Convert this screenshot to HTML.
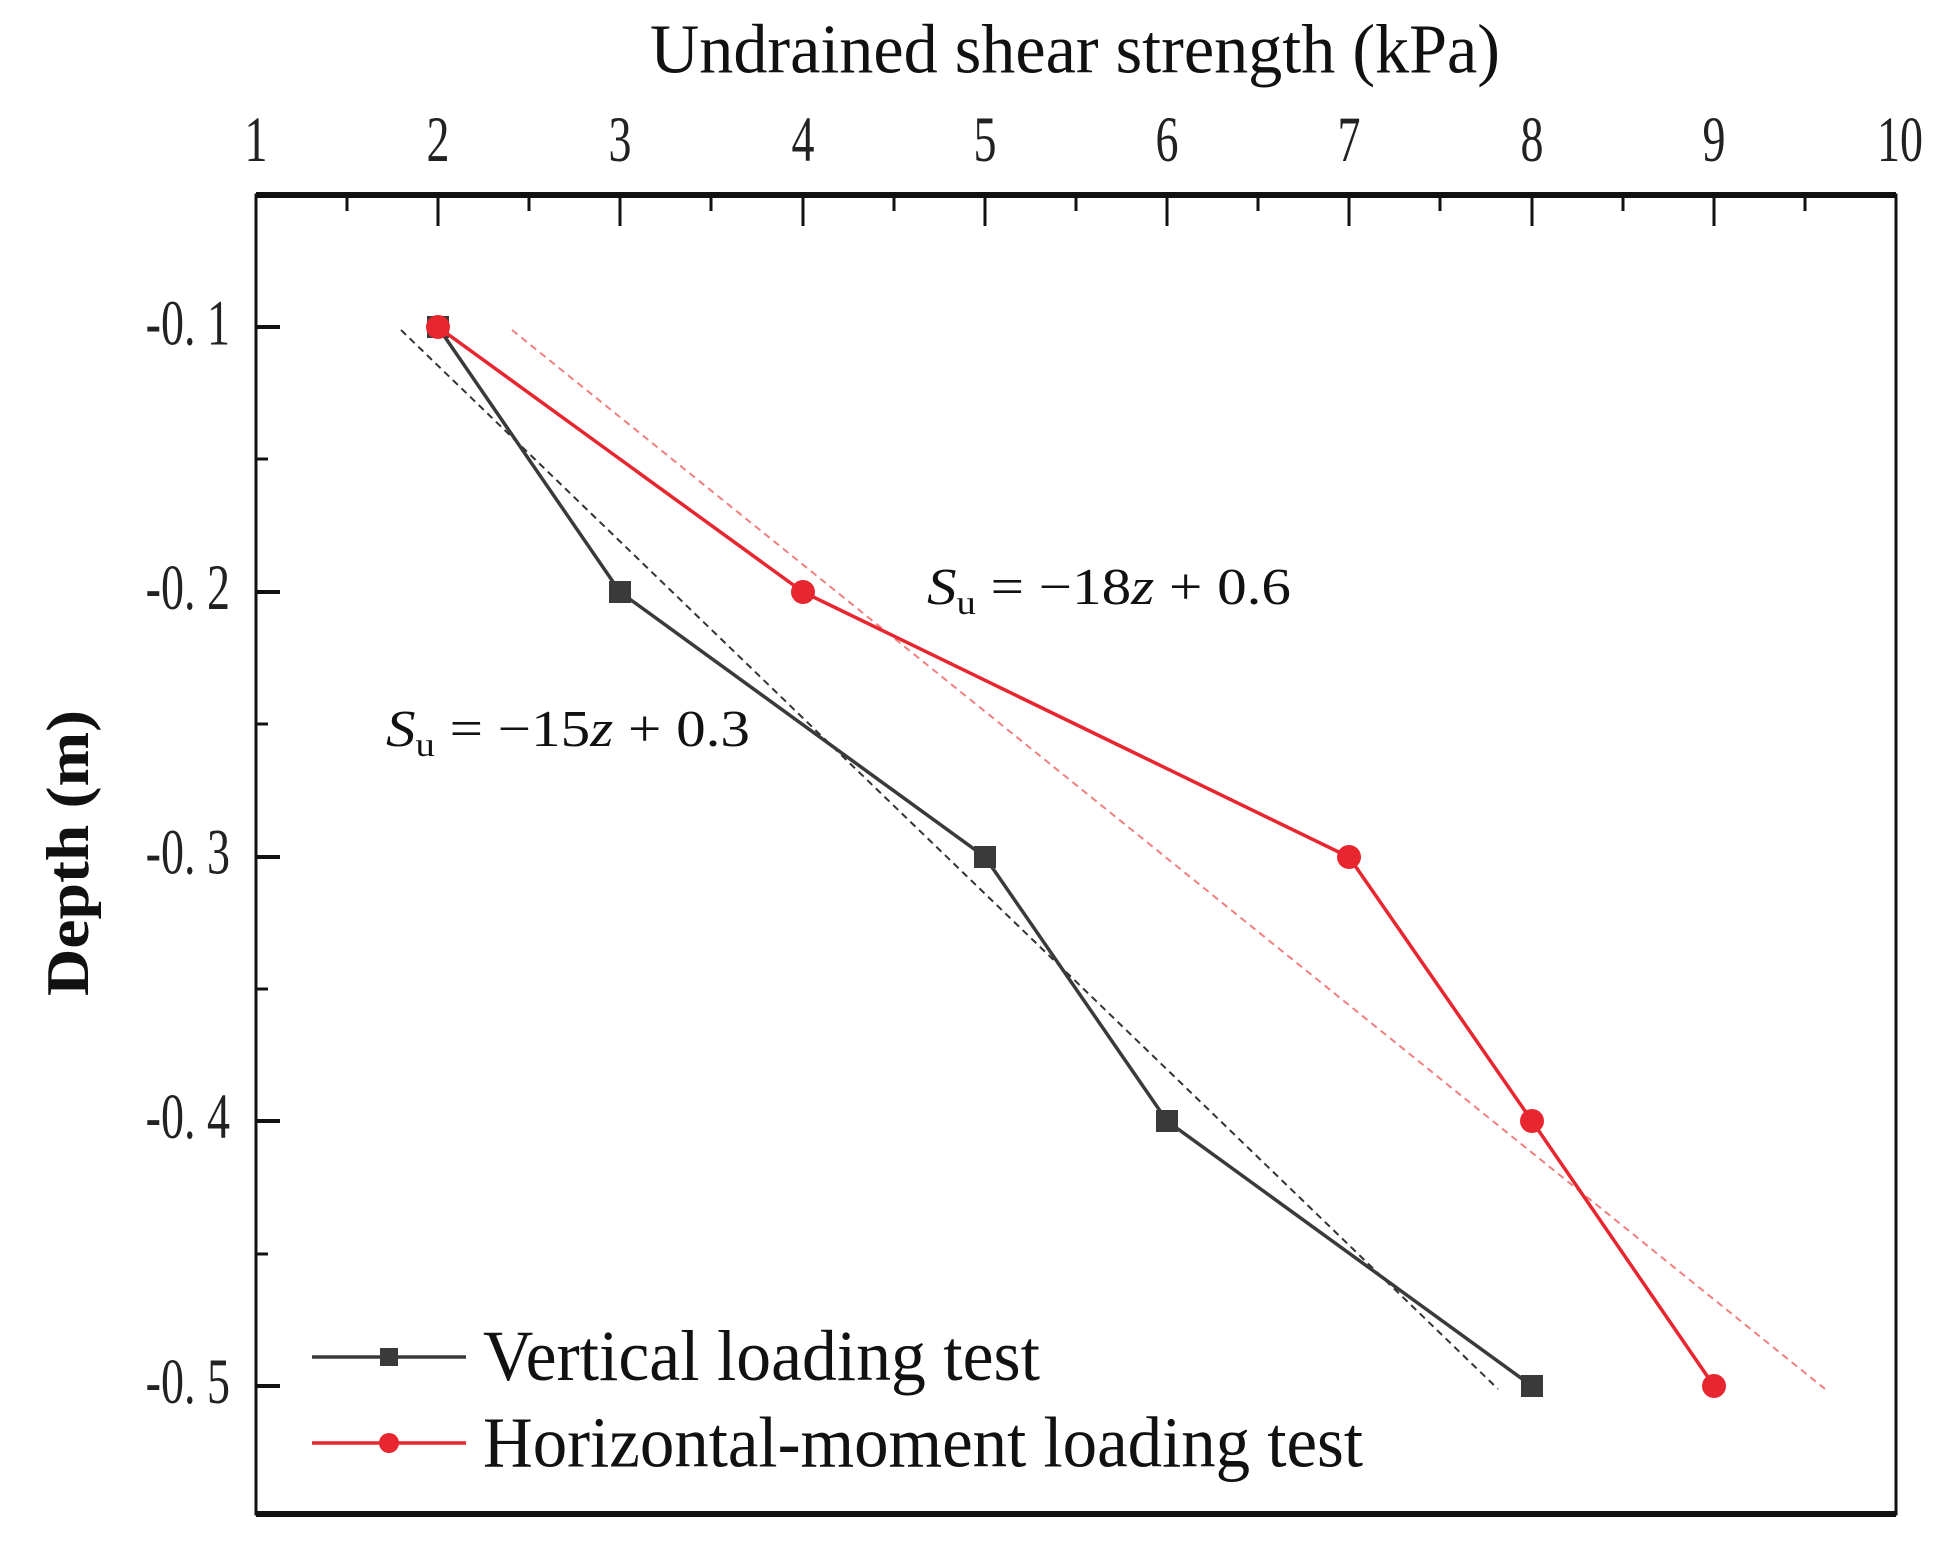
<!DOCTYPE html>
<html><head><meta charset="utf-8"><style>html,body{margin:0;padding:0;background:#fff}svg{display:block}</style></head>
<body>
<svg width="1933" height="1549" viewBox="0 0 1933 1549" xmlns="http://www.w3.org/2000/svg" font-family="'Liberation Serif', serif">
<rect width="1933" height="1549" fill="#fff"/>
<!-- title -->
<g transform="scale(1,1.25)"><text x="1075" y="58" font-size="56" text-anchor="middle" textLength="850" lengthAdjust="spacingAndGlyphs" fill="#111">Undrained shear strength (kPa)</text></g>
<!-- x tick labels -->
<g font-size="46" fill="#222" text-anchor="middle" transform="scale(1,1.4)">
<text x="256" y="115">1</text>
<text x="438" y="115">2</text>
<text x="620" y="115">3</text>
<text x="803" y="115">4</text>
<text x="985" y="115">5</text>
<text x="1167" y="115">6</text>
<text x="1349" y="115">7</text>
<text x="1532" y="115">8</text>
<text x="1714" y="115">9</text>
<text x="1900" y="115">10</text>
</g>
<!-- y tick labels -->
<g font-size="46" fill="#222" text-anchor="end" transform="scale(1,1.4)">
<text x="230" y="246">-0. 1</text>
<text x="230" y="435">-0. 2</text>
<text x="230" y="624">-0. 3</text>
<text x="230" y="813">-0. 4</text>
<text x="230" y="1002">-0. 5</text>
</g>
<text transform="translate(88,853) rotate(-90)" font-size="60" font-weight="bold" text-anchor="middle" textLength="286" lengthAdjust="spacingAndGlyphs" fill="#111">Depth (m)</text>
<!-- axes box -->
<rect x="256" y="195" width="1640" height="1319" fill="none" stroke="#111" stroke-width="3"/>
<line x1="256" y1="195" x2="1896" y2="195" stroke="#111" stroke-width="6"/>
<line x1="256" y1="1514" x2="1896" y2="1514" stroke="#111" stroke-width="6"/>
<g stroke="#111" stroke-width="3">
<line x1="438" y1="195" x2="438" y2="226"/><line x1="620" y1="195" x2="620" y2="226"/><line x1="803" y1="195" x2="803" y2="226"/><line x1="985" y1="195" x2="985" y2="226"/><line x1="1167" y1="195" x2="1167" y2="226"/><line x1="1349" y1="195" x2="1349" y2="226"/><line x1="1532" y1="195" x2="1532" y2="226"/><line x1="1714" y1="195" x2="1714" y2="226"/>
<line x1="347" y1="195" x2="347" y2="211"/><line x1="529" y1="195" x2="529" y2="211"/><line x1="711" y1="195" x2="711" y2="211"/><line x1="894" y1="195" x2="894" y2="211"/><line x1="1076" y1="195" x2="1076" y2="211"/><line x1="1258" y1="195" x2="1258" y2="211"/><line x1="1440" y1="195" x2="1440" y2="211"/><line x1="1623" y1="195" x2="1623" y2="211"/><line x1="1805" y1="195" x2="1805" y2="211"/>
<line x1="256" y1="327" x2="280" y2="327" stroke-width="4"/><line x1="256" y1="592" x2="280" y2="592" stroke-width="4"/><line x1="256" y1="857" x2="280" y2="857" stroke-width="4"/><line x1="256" y1="1121" x2="280" y2="1121" stroke-width="4"/><line x1="256" y1="1386" x2="280" y2="1386" stroke-width="4"/>
<line x1="256" y1="459" x2="268" y2="459"/><line x1="256" y1="724" x2="268" y2="724"/><line x1="256" y1="989" x2="268" y2="989"/><line x1="256" y1="1254" x2="268" y2="1254"/>
</g>
<line x1="401" y1="330" x2="1498" y2="1389" stroke="#333" stroke-width="2" stroke-dasharray="7,5"/>
<line x1="512" y1="330" x2="1825" y2="1389" stroke="#f08080" stroke-width="2" stroke-dasharray="7,5"/>
<polyline points="438,327 620,592 985,857 1167,1121 1532,1386" fill="none" stroke="#3a3a3a" stroke-width="3.5"/>
<g fill="#3a3a3a">
<rect x="427" y="316" width="22" height="22"/><rect x="609" y="581" width="22" height="22"/><rect x="974" y="846" width="22" height="22"/><rect x="1156" y="1110" width="22" height="22"/><rect x="1521" y="1375" width="22" height="22"/>
</g>
<polyline points="438,327 803,592 1349,857 1532,1121 1714,1386" fill="none" stroke="#e8262f" stroke-width="3.5"/>
<g fill="#e8262f">
<circle cx="438" cy="327" r="12"/><circle cx="803" cy="592" r="12"/><circle cx="1349" cy="857" r="12"/><circle cx="1532" cy="1121" r="12"/><circle cx="1714" cy="1386" r="12"/>
</g>
<text x="927" y="604" font-size="52" fill="#111" textLength="364" lengthAdjust="spacingAndGlyphs"><tspan font-style="italic">S</tspan><tspan font-size="34" dy="10">u</tspan><tspan dy="-10"> = −18</tspan><tspan font-style="italic">z</tspan> + 0.6</text>
<text x="386" y="746" font-size="52" fill="#111" textLength="364" lengthAdjust="spacingAndGlyphs"><tspan font-style="italic">S</tspan><tspan font-size="34" dy="10">u</tspan><tspan dy="-10"> = −15</tspan><tspan font-style="italic">z</tspan> + 0.3</text>
<line x1="312" y1="1357" x2="466" y2="1357" stroke="#3a3a3a" stroke-width="3.5"/>
<rect x="380" y="1348" width="18" height="18" fill="#3a3a3a"/>
<g transform="scale(1,1.2)">
<text x="483" y="1150" font-size="60" fill="#111" textLength="557" lengthAdjust="spacingAndGlyphs">Vertical loading test</text>
<text x="483" y="1222" font-size="60" fill="#111" textLength="880" lengthAdjust="spacingAndGlyphs">Horizontal-moment loading test</text>
</g>
<line x1="312" y1="1443" x2="466" y2="1443" stroke="#e8262f" stroke-width="3.5"/>
<circle cx="389" cy="1443" r="10" fill="#e8262f"/>
</svg>
</body></html>
